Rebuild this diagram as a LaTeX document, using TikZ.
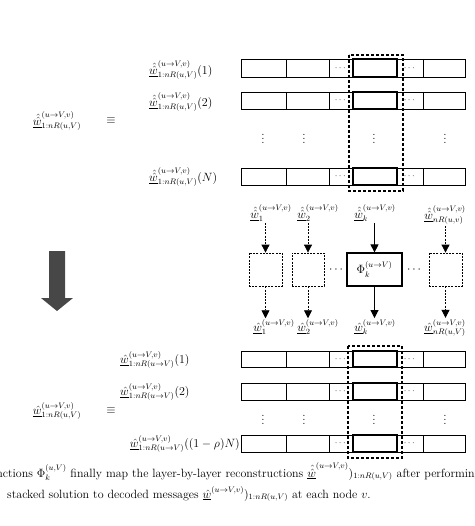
\documentclass[tikz,border=0pt]{standalone}
\usepackage{amsmath}
\usetikzlibrary{arrows.meta}

\newcommand{\wh}{\underline{\hat{w}}}
\newcommand{\whh}{\underline{\hat{\hat{w}}}}
\newcommand{\msgrow}[2]{%
    \draw[cell] (241,#1) rectangle (465,#2);
    \foreach \xs in {286,329,397,423} \draw[cell] (\xs,#1) -- (\xs,#2);
    \draw[kcell] (353,#1) rectangle (397,#2);
    \node[font=\small] at (341,{(#1+#2)/2}) {$\cdots$};
    \node[font=\small] at (410,{(#1+#2)/2}) {$\cdots$};
}

\tikzset{
    cell/.style={draw, line width=0.7pt},
    kcell/.style={draw, line width=1.3pt},
    stackbox/.style={draw, line width=1.3pt, dash pattern=on 3pt off 2pt},
    ghost/.style={draw, line width=0.8pt, dash pattern=on 2pt off 1.2pt, minimum width=33pt, minimum height=33pt, inner sep=0pt},
    phibox/.style={draw, line width=1.2pt, minimum width=55pt, minimum height=33pt, inner sep=0pt},
    flow/.style={-{Triangle[length=8pt,width=8pt]}, line width=0.8pt},
    ghostflow/.style={flow, dash pattern=on 2pt off 1.2pt},
    lbl/.style={inner sep=1pt}
}

\begin{document}
\begin{tikzpicture}[x=1pt, y=-1pt, font=\fontsize{12}{14.5}\selectfont]
    \useasboundingbox (0,0) rectangle (474,526);

    \foreach \yt/\yb in {59/77, 92/109, 168/185} {\msgrow{\yt}{\yb}}
    \foreach \xd in {263,304,374,445} \node (vdt\xd) at (\xd,136) {$\vdots$};
    \draw[stackbox] (349,55) rectangle (403,191);

    \node[lbl, anchor=west] (r1) at (148,70) {$\whh^{(u\to V,v)}_{1:nR(u,V)}(1)$};
    \node[lbl, anchor=west] (r2) at (148,102) {$\whh^{(u\to V,v)}_{1:nR(u,V)}(2)$};
    \node[lbl, anchor=west] (rN) at (148,177) {$\whh^{(u\to V,v)}_{1:nR(u,V)}(N)$};
    \node[lbl] (stackA) at (57,121) {$\whh^{(u\to V,v)}_{1:nR(u,V)}$};
    \node (eqA) at (111,121) {$\equiv$};

    \node[ghost] (b1) at (265.5,269.5) {};
    \node[ghost, minimum width=32pt] (b2) at (308,269.5) {};
    \node[phibox] (bk) at (374.5,269.5) {$\Phi_k^{(u\to V)}$};
    \node[ghost] (bn) at (445.5,269.5) {};
    \node (dd1) at (337,270) {$\cdots$};
    \node (dd2) at (415,270) {$\cdots$};

    \node[lbl] (t1) at (271,213) {$\whh_1^{(u\to V,v)}$};
    \node[lbl] (t2) at (318,213) {$\whh_2^{(u\to V,v)}$};
    \node[lbl] (tk) at (375,213) {$\whh_k^{(u\to V,v)}$};
    \node[lbl] (tn) at (445,215) {$\whh^{(u\to V,v)}_{nR(u,v)}$};
    \node[lbl] (o1) at (274,327) {$\wh_1^{(u\to V,v)}$};
    \node[lbl] (o2) at (318,327) {$\wh_2^{(u\to V,v)}$};
    \node[lbl] (ok) at (375,327) {$\wh_k^{(u\to V,v)}$};
    \node[lbl] (on) at (445,328) {$\wh^{(u\to V,v)}_{nR(u,V)}$};

    \draw[ghostflow] (b1.north |- t1.south) -- (b1.north);
    \draw[ghostflow] (b2.north |- t2.south) -- (b2.north);
    \draw[flow] (bk.north |- tk.south) -- (bk.north);
    \draw[ghostflow] (bn.north |- tn.south) -- (bn.north);
    \draw[ghostflow] (b1.south) -- (b1.south |- o1.north);
    \draw[ghostflow] (b2.south) -- (b2.south |- o2.north);
    \draw[flow] (bk.south) -- (bk.south |- ok.north);
    \draw[ghostflow] (bn.south) -- (bn.south |- on.north);

    \fill[black!72] (49,251) -- (65,251) -- (65,298) -- (73,298) -- (57,311) -- (41,298) -- (49,298) -- cycle;

    \foreach \yt/\yb in {351/367, 383/400, 435/452} {\msgrow{\yt}{\yb}}
    \foreach \xd in {263,304,374,445} \node (vdb\xd) at (\xd,417) {$\vdots$};
    \draw[stackbox] (348,346) rectangle (402,458);

    \node[lbl, anchor=west] (s1) at (119,360) {$\wh^{(u\to V,v)}_{1:nR(u\to V)}(1)$};
    \node[lbl, anchor=west] (s2) at (119,392) {$\wh^{(u\to V,v)}_{1:nR(u\to V)}(2)$};
    \node[lbl, anchor=east] (sN) at (241,444) {$\wh^{(u\to V,v)}_{1:nR(u\to V)}((1-\rho)N)$};
    \node[lbl] (stackB) at (57,411) {$\wh^{(u\to V,v)}_{1:nR(u,V)}$};
    \node (eqB) at (111,411) {$\equiv$};

    \node[lbl, anchor=base west] (cap1) at (-15,477) {functions $\Phi_k^{(u,V)}$ finally map the layer-by-layer reconstructions $\whh^{(u\to V,v)})_{1:nR(u,V)}$ after performing};
    \node[lbl, anchor=base west] (cap2) at (6,498) {stacked solution to decoded messages $\wh^{(u\to V,v)})_{1:nR(u,V)}$ at each node $v$.};
\end{tikzpicture}
\end{document}
